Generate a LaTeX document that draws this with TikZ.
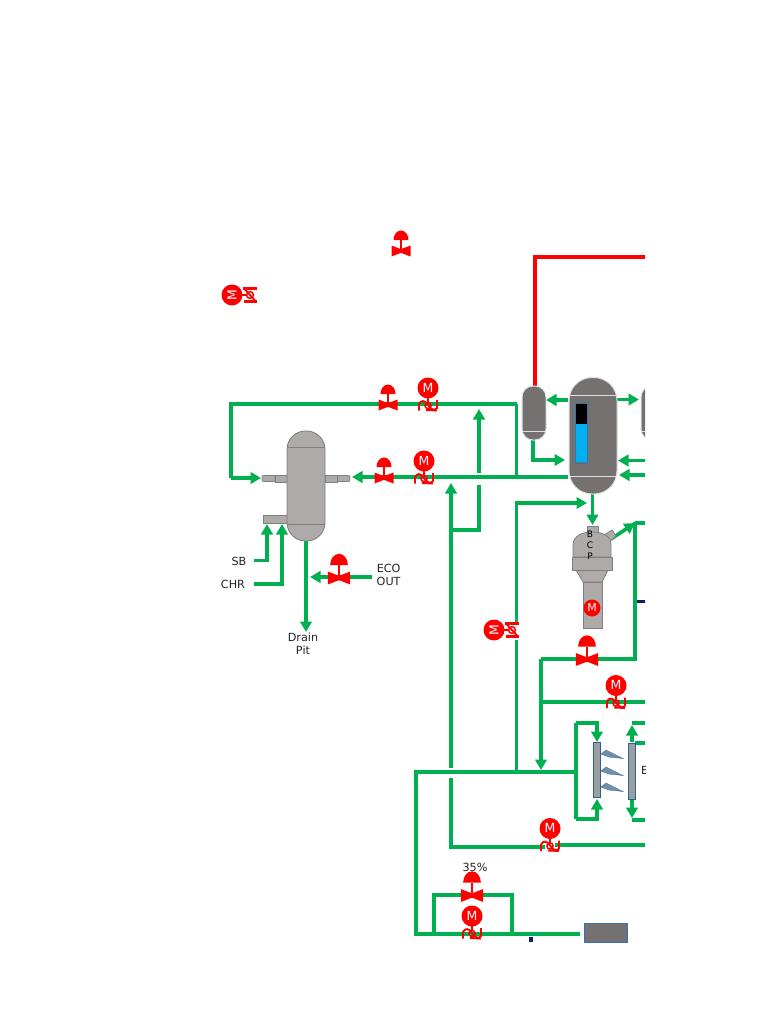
\documentclass[tikz,border=0pt]{standalone}
\usepackage{fontspec}
\setmainfont{DejaVu Sans}
\usetikzlibrary{arrows.meta,calc}
\definecolor{pipe}{HTML}{00B050}
\definecolor{darkv}{HTML}{767171}
\definecolor{lightv}{HTML}{AEAAAA}
\definecolor{edgev}{HTML}{7F7F7F}
\definecolor{redv}{HTML}{FF0000}
\definecolor{bluee}{HTML}{2E75B6}
\definecolor{cyanl}{HTML}{00B0F0}
\definecolor{navyb}{HTML}{0B1F65}
\definecolor{finc}{HTML}{6F8FAF}
\tikzset{
  pipeline/.style={draw=pipe,line width=3.6pt,line join=miter},
  flow/.style={pipeline,-{Triangle[length=10.5pt,width=11.5pt]}},
  redline/.style={draw=redv,line width=3.4pt},
  lab/.style={font=\fontsize{11.2}{13}\selectfont,align=center,inner sep=0pt,text=black!85},
  plate/.style={fill=black!38,draw=bluee!85!black,line width=1pt},
  fin/.style={fill=finc,draw=finc!70!black,line width=.4pt},
  vesselD/.style={fill=darkv,draw=black!12,line width=1pt},
  vesselL/.style={fill=lightv,draw=edgev,line width=.9pt},
  gatevalve/.pic={
    \fill[redv] (-9.5,-5.5) -- (-1,-2.2) -- (1,-2.2) -- (9.5,-5.5) -- (9.5,5.5) -- (1,2.2) -- (-1,2.2) -- (-9.5,5.5) -- cycle;
    \draw[redv,line width=1.7pt] (0,0) -- (0,-11);
    \fill[redv] (-7.5,-11) arc[start angle=180,end angle=360,x radius=7.5,y radius=9.5] -- cycle;
  },
  motorvalve/.pic={
    \draw[redv,line width=1.6pt] (0,-7) -- (0,-2);
    \draw[redv,line width=1.9pt] (-9,5.5) -- (-9,-1) .. controls (-7,-5) and (-3,-5) .. (0,0) .. controls (3,5) and (7,6) .. (9,3) -- (9,-5);
    \draw[redv,line width=1.5pt] (0,0.5) circle[radius=3.1];
    \draw[redv,line width=1.9pt] (-2,5) -- (9,5.5);
    \fill[redv] (0,-17) circle[radius=10.5];
    \node[text=white,inner sep=0pt,font=\fontsize{12.5}{12.5}\selectfont] at (0,-17.5) {M};
  },
  motorvalveB/.pic={
    \draw[redv,line width=1.6pt] (0,-3) -- (0,-9);
    \draw[redv,line width=2.1pt] (-6.5,-6) -- (-6.5,7) (6.5,-7) -- (6.5,7);
    \draw[redv,line width=1.8pt] (-6.5,6) -- (6.5,-6);
    \draw[redv,line width=1.5pt] (0,0) circle[radius=3.4];
    \fill[redv] (0,-18) circle[radius=10.5];
    \node[text=white,inner sep=0pt,font=\fontsize{12.5}{12.5}\selectfont,rotate=90] at (0,-18) {M};
  },
}
\begin{document}
\begin{tikzpicture}[x=1pt,y=-1pt]
\useasboundingbox (0,0) rectangle (768,1024);
\fill[white] (0,0) rectangle (768,1024);
% named pipe points
\coordinate (tl) at (231,404);
\coordinate (tr) at (516.5,404);
\coordinate (dl) at (231,478);
\coordinate (sepin) at (261,478);
\coordinate (main) at (568,477);
\coordinate (mainj) at (516.5,477);
\coordinate (sepout) at (352,477);
\coordinate (ua) at (479,473);
\coordinate (ub) at (479,409);
\coordinate (la) at (479,485);
\coordinate (lb) at (479,530);
\coordinate (lc) at (451,530);
\coordinate (ld) at (451,483);
\coordinate (le) at (451,768);
\coordinate (lf) at (451,778);
\coordinate (lg) at (451,847);
\coordinate (lh) at (545,847);
\coordinate (li) at (555,845);
\coordinate (bcpin) at (587,503);
\coordinate (ba) at (516.5,503);
\coordinate (bb) at (516.5,622);
\coordinate (bc) at (516.5,640);
\coordinate (bd) at (516.5,772);
\coordinate (hl) at (416,772);
\coordinate (hr) at (576,772);
\coordinate (hb) at (416,934);
\coordinate (bh) at (580,934);
\coordinate (ma) at (434,934);
\coordinate (mb) at (434,895);
\coordinate (mc) at (512,895);
\coordinate (md) at (512,934);
\coordinate (vt) at (576,723);
\coordinate (vb) at (576,819);
\begin{scope}
\clip (0,0) rectangle (645,1024);
% pipes
\draw[pipeline] (tr) -- (tl) -- (dl);
\draw[flow] (dl) -- (sepin);
\draw[pipeline] (tr) -- (mainj);
\draw[flow] (main) -- (sepout);
\draw[flow] (ua) -- (ub);
\draw[pipeline] (la) -- (lb) -- (lc);
\draw[flow] (le) -- (ld);
\draw[pipeline] (lf) -- (lg) -- (lh);
\draw[pipeline] (li) -- (650,845);
\draw[flow] (bb) -- (ba) -- (bcpin);
\draw[pipeline] (bc) -- (bd);
\draw[pipeline] (hr) -- (hl) -- (hb) -- (bh);
\draw[pipeline] (ma) -- (mb) -- (mc) -- (md);
\draw[pipeline] (vt) -- (vb);
\draw[flow] (vt) -- (597,723) -- (597,742);
\draw[flow] (vb) -- (597,819) -- (597,799);
\draw[flow] (632,742) -- (632,725);
\draw[pipeline] (632,723) -- (650,723);
\draw[pipeline] (635,743) -- (650,743);
\draw[flow] (632,799) -- (632,818);
\draw[pipeline] (632,820) -- (650,820);
\draw[flow] (254,560.5) -| (267,524);
\draw[flow] (254,584) -| (282,524);
\draw[flow] (372,577) -- (310,577);
\draw[flow] (306,541) -- (306,632);
\draw[flow] (568,400) -- (546,400);
\draw[flow] (617,399.5) -- (639,399.5);
\draw[flow] (533,439) -- (533,460) -- (565,460);
\draw[flow] (650,460.5) -- (618,460.5);
\draw[flow] (650,475) -- (619,475);
\draw[flow] (592.5,494) -- (592.5,525);
\draw[flow] (611,539) -- (635,523);
\draw[pipeline] (635,523) -- (650,523);
\draw[pipeline] (635,522) -- (635,659) -- (541,659);
\draw[flow] (541,659) -- (541,770);
\draw[pipeline] (541,702) -- (650,702);
\draw[redline] (535,387) -- (535,257) -- (650,257);
% left separator
\fill[lightv,draw=edgev,line width=.8pt] (262,478.5) .. controls (262,475.5) .. (265,475.5) -- (275,475.5) -- (275,481.5) -- (265,481.5) .. controls (262,481.5) .. (262,478.5) -- cycle;
\fill[lightv,draw=edgev,line width=.8pt] (350,478.5) .. controls (350,475.5) .. (347,475.5) -- (337,475.5) -- (337,481.5) -- (347,481.5) .. controls (350,481.5) .. (350,478.5) -- cycle;
\draw[vesselL] (275,475.5) rectangle (288,482.5);
\draw[vesselL] (325,475.5) rectangle (337,482.5);
\draw[vesselL] (263,515.5) rectangle (288,523);
\draw[vesselL,rounded corners=18.5pt] (287,431) rectangle (325,541);
\draw[edgev,line width=.8pt] (287,447.5) -- (325,447.5) (287,524) -- (325,524);
% small vessel
\draw[vesselD,rounded corners=11pt] (522,386) rectangle (546,440);
\draw[black!12,line width=.8pt] (522,431) -- (546,431);
% main drum
\draw[vesselD,rounded corners=23pt] (569,377.5) rectangle (617,494);
\draw[black!12,line width=.8pt] (569,395) -- (617,395) (569,476) -- (617,476);
\fill[black] (575,403) rectangle (587,424);
\fill[cyanl] (575,424) rectangle (587,462);
\draw[bluee,line width=1pt] (575,403) rectangle (587,463);
% right vessel
\draw[vesselD,rounded corners=11pt] (641,386) rectangle (665,440);
\draw[black!12,line width=.8pt] (641,431) -- (665,431);
% BCP
\draw[vesselL,line width=.8pt] (587,526) rectangle (598,534);
\draw[vesselL,line width=.8pt] (604,535) -- (612,530) -- (616,536) -- (609,542) -- cycle;
\draw[vesselL,line width=.8pt] (573,557) -- (573,545) .. controls (573,536) and (582,532) .. (592,532) .. controls (603,532) and (611,536) .. (611,545) -- (611,557) -- cycle;
\draw[vesselL,line width=.8pt] (576,570) -- (608,570) -- (602,582) -- (583,582) -- cycle;
\draw[vesselL,line width=.8pt] (583,582) rectangle (602,628);
\draw[vesselL,line width=.8pt] (572,557) rectangle (612,570);
\node[inner sep=0pt,font=\fontsize{9}{9}\selectfont] (bcpB) at (590,534.5) {B};
\node[inner sep=0pt,font=\fontsize{9}{9}\selectfont] (bcpC) at (590,545.5) {C};
\node[inner sep=0pt,font=\fontsize{9}{9}\selectfont] (bcpP) at (590,556) {P};
\fill[redv] (592,608) circle[radius=8.5];
\node[text=white,inner sep=0pt,font=\fontsize{11}{11}\selectfont] (bcpM) at (592,607.5) {M};
% exchanger
\draw[plate] (593,742.5) rectangle (600,797.5);
\draw[plate] (628,743.5) rectangle (635,799);
\foreach \yy/\xa in {750/601,767/601,783/601}{
  \draw[fin] (\xa,\yy+4) -- (\xa+5,\yy) -- (\xa+22,\yy+8.5) -- (\xa+8,\yy+7) -- cycle;
}
\node[lab,anchor=west] (Elab) at (641,770) {E};
% navy bits and bottom box
\fill[navyb] (637,600) rectangle (650,602.5);
\fill[navyb] (529,937) rectangle (532.5,942);
\draw[fill=darkv,draw=bluee,line width=.8pt] (584.5,923.5) rectangle (627,942);
% valves
\pic at (401,251) {gatevalve};
\pic at (388,405) {gatevalve};
\pic at (384,478) {gatevalve};
\pic[scale=1.18] at (339,578) {gatevalve};
\pic[scale=1.18] at (587,659.5) {gatevalve};
\pic[scale=1.18] at (472,895.5) {gatevalve};
\pic at (428,405) {motorvalve};
\pic at (424,478) {motorvalve};
\pic at (616,702.5) {motorvalve};
\pic at (550,845.5) {motorvalve};
\pic at (472,933) {motorvalve};
\pic[rotate=90] at (250,295) {motorvalveB};
\pic[rotate=90] at (512,630) {motorvalveB};
% labels
\node[lab] (sb) at (239,561) {SB};
\node[lab] (chr) at (233,584.5) {CHR};
\node[lab,anchor=west] (eco) at (376.5,575) {ECO\\OUT};
\node[lab] (drain) at (303,644) {Drain\\Pit};
\node[lab] (pct) at (475,867.5) {35\%};
\end{scope}
\end{tikzpicture}
\end{document}
